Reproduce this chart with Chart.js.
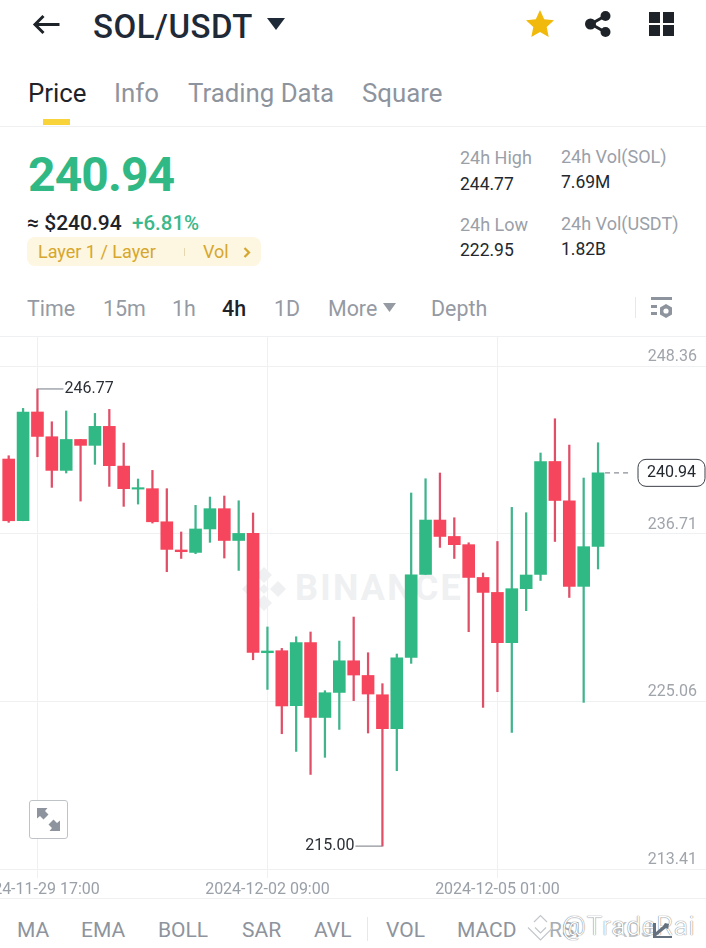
<!DOCTYPE html>
<html>
<head>
<meta charset="utf-8">
<script src="https://cdn.jsdelivr.net/npm/chart.js@4"></script>
<style>
  html, body { margin: 0; padding: 0; background: #fff; }
  body { position: relative; width: 706px; height: 948px; overflow: hidden; font-family: Roboto, sans-serif; color: #1e2329; }
  .t { position: absolute; white-space: pre; line-height: 1; transform: translateY(-50%); }
  .g { color: #8e949d; }
  .s { color: #9aa0a8; font-size: 18px; }
  .v { color: #23282f; font-size: 17.5px; }
  .tab { font-size: 25.8px; }
  .tf { font-size: 21.4px; color: #959aa3; }
  .ind { font-size: 21px; color: #8e949d; top: 930px; }
  .line { position: absolute; left: 0; width: 706px; height: 1px; background: #eef0f2; }
  svg { position: absolute; }
  #chart { position: absolute; left: 0; top: 336px; z-index: 2; }
  #mark { position: absolute; left: 295px; top: 588px; font-size: 36px; font-weight: 700; color: #eff0f1; letter-spacing: 2.2px; z-index: 1; line-height: 1; transform: translateY(-50%); white-space: pre; }
  .wm { font-size: 26px; font-weight: 300; letter-spacing: 1px; color: #fff; top: 926px; z-index: 4; text-shadow: 0 0 1px #7d838a, 0 0 1px #7d838a; }
</style>
</head>
<body>
<!-- header -->
<svg style="left:32px;top:14px" width="29" height="21" viewBox="0 0 29 21"><path d="M27.5 10.5H3M11.5 2L3 10.5l8.5 8.5" fill="none" stroke="#1e2329" stroke-width="3"/></svg>
<div class="t" style="left:93px;top:26px;font-size:33px;font-weight:500;color:#1f2a38;letter-spacing:.5px">SOL/USDT</div>
<svg style="left:267px;top:18px" width="18" height="12" viewBox="0 0 18 12"><path d="M0 0H18L9 12Z" fill="#1f2a38"/></svg>
<svg style="left:526px;top:10px" width="28" height="27" viewBox="0 0 28 27"><path d="M14 0l4.2 9.2 9.8 1.1-7.3 6.7 2 9.9L14 22l-8.7 4.9 2-9.9L0 10.3l9.8-1.1Z" fill="#f0b90b"/></svg>
<svg style="left:585px;top:11px" width="26" height="26" viewBox="0 0 26 26"><path d="M20 5L6 13l14 8" fill="none" stroke="#1e2329" stroke-width="3"/><circle cx="20.5" cy="5" r="5" fill="#1e2329"/><circle cx="5.5" cy="13" r="5.5" fill="#1e2329"/><circle cx="20.5" cy="21" r="5" fill="#1e2329"/></svg>
<svg style="left:649px;top:12px" width="25" height="24" viewBox="0 0 25 24"><path d="M0 0h11v11H0zM14 0h11v11H14zM0 13h11v11H0zM14 13h11v11H14z" fill="#1e2329"/></svg>

<!-- tabs -->
<div class="t tab" style="left:28px;top:94px;color:#1e2329">Price</div>
<div class="t tab g" style="left:114px;top:94px">Info</div>
<div class="t tab g" style="left:188px;top:94px">Trading Data</div>
<div class="t tab g" style="left:362px;top:94px">Square</div>
<div style="position:absolute;left:43px;top:119px;width:27px;height:6px;background:#f8d33a"></div>
<div class="line" style="top:126px"></div>

<!-- price summary -->
<div class="t" style="left:28px;top:175px;font-size:48px;font-weight:700;color:#31b985;letter-spacing:-.9px">240.94</div>
<div class="t" style="left:27px;top:223px;font-size:21px;font-weight:500;color:#1e2329">≈ $240.94</div>
<div class="t" style="left:132px;top:223px;font-size:20.5px;font-weight:500;color:#3cb88b">+6.81%</div>
<div style="position:absolute;left:27px;top:237px;width:234px;height:29px;background:#fdf6e0;border-radius:8px"></div>
<div class="t" style="left:38px;top:252px;font-size:18px;color:#d6a72e">Layer 1 / Layer</div>
<div style="position:absolute;left:184px;top:248px;width:1px;height:8px;background:#e3d8b0"></div>
<div class="t" style="left:203px;top:252px;font-size:18px;color:#d6a72e">Vol</div>
<svg style="left:243px;top:247px" width="8" height="11" viewBox="0 0 8 11"><path d="M1.5 1l4.5 4.5L1.5 10" fill="none" stroke="#d6a72e" stroke-width="2.2"/></svg>

<div class="t s" style="left:460px;top:158px">24h High</div>
<div class="t v" style="left:460px;top:185px">244.77</div>
<div class="t s" style="left:561px;top:157px">24h Vol(SOL)</div>
<div class="t v" style="left:561px;top:183px">7.69M</div>
<div class="t s" style="left:460px;top:225px">24h Low</div>
<div class="t v" style="left:460px;top:251px">222.95</div>
<div class="t s" style="left:561px;top:224px">24h Vol(USDT)</div>
<div class="t v" style="left:561px;top:250px">1.82B</div>

<!-- timeframes -->
<div class="t tf" style="left:27px;top:309px">Time</div>
<div class="t tf" style="left:103px;top:309px">15m</div>
<div class="t tf" style="left:172px;top:309px">1h</div>
<div class="t tf" style="left:222px;top:309px;color:#1e2329;font-weight:500">4h</div>
<div class="t tf" style="left:274px;top:309px">1D</div>
<div class="t tf" style="left:328px;top:309px">More</div>
<svg style="left:383px;top:303px" width="13" height="9" viewBox="0 0 13 9"><path d="M0 0H13L6.5 9Z" fill="#959aa3"/></svg>
<div class="t tf" style="left:431px;top:309px">Depth</div>
<div style="position:absolute;left:635px;top:297px;width:1px;height:21px;background:#e6e8ea"></div>
<svg style="left:651px;top:297px" width="23" height="22" viewBox="0 0 23 22"><path d="M0 0h21v3H0zM0 8h6v3H0zM0 15h6v3H0z" fill="#8e949d"/><path d="M15 7l6 3.5v7L15 21l-6-3.5v-7Z" fill="#8e949d"/><circle cx="15" cy="14" r="2.6" fill="#fff"/></svg>

<!-- chart -->
<div class="line" style="top:336px"></div>
<svg style="left:242px;top:567px;z-index:1" width="44" height="44" viewBox="0 0 44 44"><path d="M22 0l8 8-8 8-8-8ZM36 14l8 8-8 8-8-8ZM8 14l8 8-8 8-8-8ZM22 17l5 5-5 5-5-5ZM22 28l8 8-8 8-8-8Z" fill="#eff0f1"/></svg>
<div id="mark">BINANCE</div>
<canvas id="chart" width="706" height="562"></canvas>
<div class="line" style="top:898px"></div>

<div style="position:absolute;left:29px;top:800px;width:37px;height:37px;border:1px solid #bfc3c8;border-radius:3px;z-index:3;background:#fff"></div>
<svg style="left:37px;top:808px;z-index:3" width="23" height="23" viewBox="0 0 23 23"><path d="M0 0h10.5L8 3l3.5 3.5-5 5L3 8 0 10.5ZM23 23H12.5l2.5-3-3.5-3.5 5-5L20 15l3-2.5Z" fill="#8e949d"/></svg>

<!-- indicators -->
<div class="t ind" style="left:17px">MA</div>
<div class="t ind" style="left:81px">EMA</div>
<div class="t ind" style="left:158px">BOLL</div>
<div class="t ind" style="left:242px">SAR</div>
<div class="t ind" style="left:314px">AVL</div>
<div style="position:absolute;left:367px;top:917px;width:1px;height:24px;background:#e6e8ea"></div>
<div class="t ind" style="left:386px">VOL</div>
<div class="t ind" style="left:457px">MACD</div>
<div class="t ind" style="left:549px;color:#a8adb4">RSI</div>
<div class="t ind" style="left:614px;color:#c2c6cb">KDJ</div>
<svg style="left:653px;top:921px;z-index:5" width="20" height="17" viewBox="0 0 20 17"><path d="M0 17V2h3v9l7-6 2-3 4 1-1 5-2-1-10 8h16v2Z" fill="#66717f"/></svg>

<svg style="left:527px;top:914px;z-index:4" width="27" height="27" viewBox="0 0 27 27"><path d="M1 13.5L13.5 26 26 13.5M7 8l6.5-6.5L20 8M8 13.5l5.5 5.5 5.5-5.5" fill="none" stroke="#c3c7cb" stroke-width="1.2"/></svg>
<div class="t wm" style="left:562px">@TradeRai</div>

<script>
const opens = [241.90, 237.61, 245.17, 243.45, 241.11, 243.26, 242.85, 244.17, 241.41, 239.81, 239.84, 237.54, 235.58, 235.41, 237.04, 238.45, 236.24, 236.73, 228.44, 228.58, 224.76, 229.14, 223.94, 225.68, 227.88, 226.86, 225.52, 223.16, 228.11, 233.88, 237.66, 236.52, 235.95, 233.67, 232.63, 229.14, 232.89, 233.88, 241.73, 239.00, 233.05, 235.83];
const closes = [237.61, 245.17, 243.47, 241.11, 243.26, 242.85, 244.17, 241.44, 239.84, 239.91, 237.54, 235.62, 235.46, 237.04, 238.45, 236.24, 236.73, 228.46, 228.56, 224.74, 229.14, 223.94, 225.66, 227.88, 226.89, 225.57, 223.16, 228.09, 233.86, 237.66, 236.52, 235.95, 233.67, 232.63, 229.14, 232.89, 233.84, 241.73, 239.02, 233.05, 235.81, 240.94];
const highs = [242.13, 245.42, 246.77, 244.49, 245.24, 243.26, 245.07, 245.35, 243.01, 240.51, 241.11, 239.84, 236.83, 238.68, 239.26, 239.33, 239.00, 238.15, 230.23, 228.74, 229.55, 229.88, 225.80, 229.25, 230.92, 228.44, 226.29, 228.35, 239.54, 240.53, 240.93, 237.82, 236.08, 233.98, 236.17, 238.54, 238.17, 242.32, 244.70, 242.87, 240.58, 243.03];
const lows = [237.50, 237.61, 242.06, 239.93, 240.93, 238.98, 241.53, 240.00, 238.61, 238.77, 237.45, 234.07, 234.99, 235.32, 236.11, 235.02, 234.16, 227.95, 225.89, 222.81, 221.58, 219.98, 221.17, 223.11, 225.11, 222.86, 215.00, 220.24, 227.70, 233.88, 235.76, 234.99, 229.90, 224.64, 225.73, 222.90, 231.36, 233.46, 236.17, 232.28, 224.99, 234.26];

const priceTicks = [213.41, 225.06, 236.71, 248.36];
const timeTickIndex = [2, 18, 34];
const timeTickLabels = ["2024-11-29 17:00", "2024-12-02 09:00", "2024-12-05 01:00"];
const highCandle = 2;
const lowCandle = 26;
const lastCandle = 41;

const GREEN = "#31b985";
const RED = "#f6465d";
const colors = opens.map(function (o, i) {
  return closes[i] >= o ? GREEN : RED;
});
const wickColors = opens.map(function (o, i) {
  return closes[i] >= o ? "#41b48c" : "#e04f68";
});

// price callouts, drawn from the scales
const callouts = {
  id: "callouts",
  afterDatasetsDraw: function (chart) {
    const ctx = chart.ctx;
    const x = chart.scales.x;
    const y = chart.scales.y;
    ctx.save();
    ctx.font = "16px Roboto";
    ctx.textBaseline = "middle";
    ctx.strokeStyle = "#8a8f96";
    ctx.fillStyle = "#2b3036";
    ctx.lineWidth = 1.2;

    const hx = x.getPixelForValue(highCandle);
    const hy = y.getPixelForValue(highs[highCandle]);
    ctx.beginPath();
    ctx.moveTo(hx, hy);
    ctx.lineTo(hx + 26, hy);
    ctx.stroke();
    ctx.textAlign = "left";
    ctx.fillText(highs[highCandle].toFixed(2), hx + 27, hy);

    const lx = x.getPixelForValue(lowCandle);
    const ly = y.getPixelForValue(lows[lowCandle]);
    ctx.beginPath();
    ctx.moveTo(lx, ly);
    ctx.lineTo(lx - 27, ly);
    ctx.stroke();
    ctx.textAlign = "right";
    ctx.fillText(lows[lowCandle].toFixed(2), lx - 28, ly);

    const cx = x.getPixelForValue(lastCandle);
    const cy = y.getPixelForValue(closes[lastCandle]);
    ctx.setLineDash([5, 4]);
    ctx.beginPath();
    ctx.moveTo(cx + 7, cy);
    ctx.lineTo(cx + 33, cy);
    ctx.stroke();
    ctx.setLineDash([]);
    ctx.fillStyle = "#fff";
    ctx.strokeStyle = "#3b4047";
    ctx.lineWidth = 1;
    ctx.beginPath();
    ctx.roundRect(638, cy - 13.5, 67, 27, 8);
    ctx.fill();
    ctx.stroke();
    ctx.fillStyle = "#23282f";
    ctx.textAlign = "center";
    ctx.fillText(closes[lastCandle].toFixed(2), 671.5, cy + 0.5);
    ctx.restore();
  },
};

new Chart(document.getElementById("chart"), {
  type: "bar",
  data: {
    datasets: [
      {
        data: opens.map(function (o, i) {
          return { x: i, y: [o, closes[i]] };
        }),
        backgroundColor: colors,
        barThickness: 12,
        grouped: false,
      },
      {
        data: lows.map(function (l, i) {
          return { x: i, y: [l, highs[i]] };
        }),
        backgroundColor: wickColors,
        barThickness: 1.6,
        grouped: false,
      },
    ],
  },
  options: {
    responsive: false,
    animation: false,
    layout: { padding: 0 },
    plugins: { legend: { display: false }, tooltip: { enabled: false } },
    scales: {
      x: {
        type: "linear",
        offset: false,
        min: -0.605,
        max: 48.51,
        afterBuildTicks: function (scale) {
          scale.ticks = timeTickIndex.map(function (v) {
            return { value: v };
          });
        },
        afterFit: function (scale) {
          scale.height = 29;
          scale.paddingLeft = 0;
          scale.paddingRight = 0;
        },
        border: { display: false },
        grid: { color: "#eef0f2", offset: false, tickLength: 9, drawOnChartArea: true },
        ticks: {
          autoSkip: false,
          maxRotation: 0,
          padding: 2,
          color: "#9aa0a8",
          font: { family: "Roboto", size: 16 },
          callback: function (value) {
            return timeTickLabels[timeTickIndex.indexOf(value)];
          },
        },
      },
      y: {
        position: "right",
        min: 213.41,
        max: 250.45,
        afterBuildTicks: function (scale) {
          scale.ticks = priceTicks.map(function (v) {
            return { value: v };
          });
        },
        afterFit: function (scale) {
          scale.width = 0;
          scale.paddingTop = 0;
          scale.paddingBottom = 0;
        },
        border: { display: false },
        grid: { color: "#eef0f2", drawTicks: false },
        ticks: {
          mirror: true,
          padding: -9,
          labelOffset: -9,
          color: "#a0a4ab",
          font: { family: "Roboto", size: 16 },
          callback: function (value) {
            return value.toFixed(2);
          },
        },
      },
    },
  },
  plugins: [callouts],
});
</script>
</body>
</html>
